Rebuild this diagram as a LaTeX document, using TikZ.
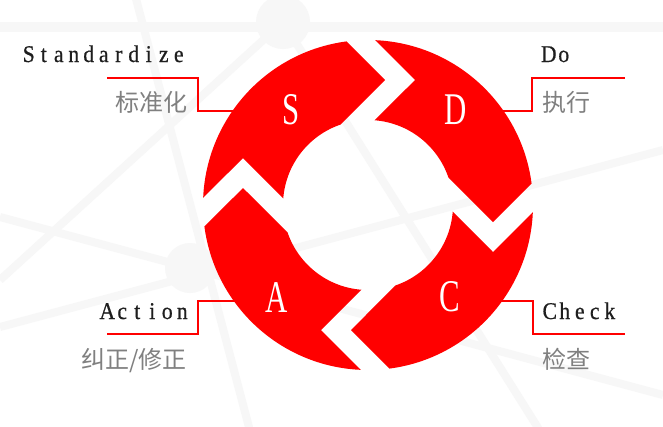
\documentclass[tikz,border=0pt]{standalone}
\usepackage{fontspec}
\usepackage{graphicx}
\setmainfont{Liberation Serif}
\newfontfamily\enlabel[FakeBold=0.7]{Liberation Serif}
\newfontfamily\cjk{Noto Sans CJK SC}
\definecolor{ringred}{RGB}{255,0,0}
\definecolor{labeldark}{RGB}{30,30,30}
\definecolor{labelgray}{RGB}{128,128,128}
\definecolor{bgline}{RGB}{247,247,247}
\newcommand\monocell[1]{\makebox[11.25pt][c]{\scalebox{0.9}[1]{#1}}}
\def\monoloop#1{\ifx\relax#1\else\monocell{#1}\expandafter\monoloop\fi}
\newcommand\mono[1]{\monoloop#1\relax}
\begin{document}
\begin{tikzpicture}[x=0.75pt,y=-0.75pt,
  bgstroke/.style={draw=bgline,line width=6pt},
  bgdot/.style={fill=bgline},
  callout/.style={draw=ringred,line width=1.5pt},
  segment/.style={fill=ringred},
  letter/.style={text=white,font=\fontsize{34}{34}\selectfont,inner sep=0},
  entitle/.style={text=labeldark,font=\enlabel\fontsize{18}{18}\selectfont,inner sep=0},
  cntitle/.style={text=labelgray,font=\cjk\fontsize{18}{18}\selectfont,inner sep=0}]
\useasboundingbox (0,0) rectangle (663,426);
\fill[white] (0,0) rectangle (663,426);
% faint background network
\begin{scope}
\clip (0,0) rectangle (663,426);
\draw[bgstroke,line width=7.5pt] (0,27) -- (663,27);
\draw[bgstroke] (135,-5) -- (250,431);
\draw[bgstroke] (283,22) -- (540,431);
\draw[bgstroke] (0,217) -- (663,395);
\draw[bgstroke] (0,327) -- (663,150);
\draw[bgstroke] (0,280) -- (283,22);
\fill[bgdot] (283,22) circle (27);
\fill[bgdot] (190,268) circle (25);
\end{scope}
% callout connectors
\coordinate (sRing) at (238,111);
\coordinate (sEnd) at (107,77.7);
\coordinate (dRing) at (498,111);
\coordinate (dEnd) at (625,77.7);
\coordinate (aRing) at (238,301);
\coordinate (aEnd) at (107,334);
\coordinate (cRing) at (498,301);
\coordinate (cEnd) at (625,334);
\draw[callout] (sRing) -- ++(-40,0) |- (sEnd);
\draw[callout] (dRing) -- ++(34,0) |- (dEnd);
\draw[callout] (aRing) -- ++(-40,0) |- (aEnd);
\draw[callout] (cRing) -- ++(35,0) |- (cEnd);
% ring of four arrows
\begin{scope}[shift={(368,205)},yscale=-1]
\foreach \r in {0,-90,-180,-270}{
  \fill[segment,rotate=\r] (177.5:165) arc[start angle=177.5,end angle=97.5,radius=165]
    -- (17,125) -- (108.9:85) arc[start angle=108.9,end angle=175.5,radius=85]
    -- (-125,47) -- cycle;
}
\end{scope}
\node[letter] (S) at (291,110) {\scalebox{0.68}[1]{S}};
\node[letter] (D) at (456,110) {\scalebox{0.68}[1]{D}};
\node[letter] (A) at (277,298) {\scalebox{0.68}[1]{A}};
\node[letter] (C) at (450,297) {\scalebox{0.68}[1]{C}};
% labels
\node[entitle,anchor=base west] (stdEn) at (21,62) {\mono{Standardize}};
\node[cntitle,anchor=base east] (stdCn) at (188,111.5) {标准化};
\node[entitle,anchor=base west] (doEn) at (541,62) {\mono{Do}};
\node[cntitle,anchor=base west] (doCn) at (542,111) {执行};
\node[entitle,anchor=base west] (actEn) at (99.5,319) {\mono{Action}};
\node[cntitle,anchor=base east] (actCn) at (187,368.5) {纠正/修正};
\node[entitle,anchor=base west] (chkEn) at (542,319) {\mono{Check}};
\node[cntitle,anchor=base west] (chkCn) at (542,368.5) {检查};
\end{tikzpicture}
\end{document}
